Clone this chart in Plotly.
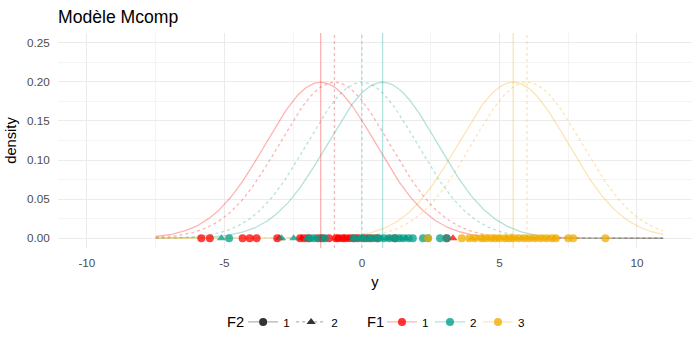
import numpy as np
import plotly.graph_objects as go

# ---- data ----
f1_levels = ["1", "2", "3"]
f2_levels = ["1", "2"]
f1_colors = ["#FF0000", "#00A08A", "#F2AD00"]
f1_rgb = ["255,0,0", "0,160,138", "242,173,0"]

# group means (rows: F1 level, cols: F2 level)
means_f2_1 = [-1.5, 0.75, 5.5]
means_f2_2 = [-1.0, 0.0, 6.0]
sigma = 2.0
curve_from = -7.5
curve_to = 10.95

# observed y values per group
y_r1 = [-5.84, -5.53, -4.34, -4.08, -3.83, -3.08, -2.25, -2.1, -1.95, -1.6, -1.42, -1.2,
        -0.95, -0.85, -0.7, -0.6, -0.45, -0.3, -0.15, 0.1, 0.3, 0.55, 1.2, 3.08]
y_r2 = [-3.0, -2.2, -1.5, -0.9, -0.8, -0.65, -0.5, -0.4, -0.2, 0.0, 0.2, 0.45, 1.0, 1.6, 3.31]
y_t1 = [-4.83, -1.9, -1.75, -1.5, -1.35, -0.3, 0.0, 0.2, 0.4, 0.6, 0.8, 1.0, 1.2, 1.35,
        1.5, 1.7, 1.85, 2.22, 2.4, 2.84, 3.08]
y_t2 = [-5.11, -2.92, -2.48, -2.0, -1.7, -0.25, -0.1, 0.05, 0.3, 0.5, 0.7, 0.9, 1.1, 1.4, 1.6]
y_y1 = [2.4, 3.63, 3.9, 4.1, 4.35, 4.5, 4.7, 4.85, 5.0, 5.2, 5.35, 5.5, 5.7, 5.9, 6.1, 6.3,
        6.5, 6.7, 6.9, 7.05, 7.5, 7.68, 8.85]
y_y2 = [4.0, 4.2, 4.4, 4.6, 4.8, 5.05, 5.25, 5.45, 5.6, 5.8, 6.0, 6.2, 6.4, 6.6, 6.8, 7.0]
obs = {("1", "1"): y_r1, ("1", "2"): y_r2,
       ("2", "1"): y_t1, ("2", "2"): y_t2,
       ("3", "1"): y_y1, ("3", "2"): y_y2}

x_ticks = [-10, -5, 0, 5, 10]
y_ticks = [0.0, 0.05, 0.10, 0.15, 0.20, 0.25]

FONT = "Liberation Sans, Arial, sans-serif"
DASH = "3px,3px"

fig = go.Figure()

xs = np.linspace(curve_from, curve_to, 300)
def dnorm(x, m, s):
    return np.exp(-0.5 * ((x - m) / s) ** 2) / (s * np.sqrt(2 * np.pi))

for i, lev in enumerate(f1_levels):
    for means, dash in ((means_f2_1, "solid"), (means_f2_2, DASH)):
        fig.add_trace(go.Scatter(
            x=xs, y=dnorm(xs, means[i], sigma), mode="lines",
            line=dict(color=f"rgba({f1_rgb[i]},0.3)", width=1.3, dash=dash),
            showlegend=False, hoverinfo="skip"))
        fig.add_vline(x=means[i], line=dict(color=f"rgba({f1_rgb[i]},0.3)", width=1.3, dash=dash))

for i, lev in enumerate(f1_levels):
    for f2, sym in (("1", "circle"), ("2", "triangle-up")):
        vals = obs[(lev, f2)]
        fig.add_trace(go.Scatter(
            x=vals, y=[0.0] * len(vals), mode="markers",
            marker=dict(color=f1_colors[i], size=8, symbol=sym, opacity=0.75),
            showlegend=False))

# legend entries F2
for f2, sym, dash in (("1", "circle", "solid"), ("2", "triangle-up", DASH)):
    fig.add_trace(go.Scatter(
        x=[None], y=[None], mode="lines+markers", name=f2,
        marker=dict(color="#333333", size=8, symbol=sym),
        line=dict(color="rgba(0,0,0,0.3)", width=1.3, dash=dash),
        legend="legend"))
# legend entries F1
for i, lev in enumerate(f1_levels):
    fig.add_trace(go.Scatter(
        x=[None], y=[None], mode="lines+markers", name=lev,
        marker=dict(color=f1_colors[i], size=8, symbol="circle", opacity=0.8),
        line=dict(color=f"rgba({f1_rgb[i]},0.3)", width=1.3),
        legend="legend2"))

LEG_Y = -0.344
grid = "#EBEBEB"
fig.update_layout(
    width=700, height=350,
    margin=dict(l=58, r=8, t=33, b=102),
    plot_bgcolor="white", paper_bgcolor="white",
    font=dict(family=FONT, color="black"),
    title=dict(text="Modèle Mcomp", x=58 / 700, xanchor="left", y=1 - 17 / 350, yanchor="middle",
               font=dict(size=17.6, color="black")),
    xaxis=dict(range=[-11.05, 12.0], tickvals=x_ticks, ticktext=[str(v) for v in x_ticks],
               showgrid=True, gridcolor=grid, gridwidth=1, zeroline=False,
               ticks="outside", ticklen=4, tickcolor="rgba(0,0,0,0)",
               tickfont=dict(size=11.7, color="#4D4D4D"),
               minor=dict(dtick=2.5, tick0=0, showgrid=True, gridcolor="#F4F4F4", gridwidth=1),
               title=dict(text="y", font=dict(size=14.7), standoff=8), showline=False),
    yaxis=dict(range=[-0.0125, 0.2625], tickvals=y_ticks, ticktext=["0.00", "0.05", "0.10", "0.15", "0.20", "0.25"],
               showgrid=True, gridcolor=grid, gridwidth=1, zeroline=False,
               ticks="outside", ticklen=5, tickcolor="rgba(0,0,0,0)",
               tickfont=dict(size=11.7, color="#4D4D4D"),
               minor=dict(dtick=0.025, tick0=0, showgrid=True, gridcolor="#F4F4F4", gridwidth=1),
               title=dict(text="density", font=dict(size=14.7), standoff=6), showline=False),
    legend=dict(orientation="h", x=0.292, xanchor="left", y=LEG_Y, yanchor="middle",
                font=dict(size=11.7), itemwidth=30, entrywidth=3, bgcolor="rgba(0,0,0,0)"),
    legend2=dict(orientation="h", x=0.511, xanchor="left", y=LEG_Y, yanchor="middle",
                 font=dict(size=11.7), itemwidth=30, entrywidth=3, bgcolor="rgba(0,0,0,0)"),
    annotations=[
        dict(text="F2", xref="paper", yref="paper", x=(236 - 58) / 634, y=LEG_Y,
             xanchor="center", yanchor="middle", showarrow=False, font=dict(size=14.7)),
        dict(text="F1", xref="paper", yref="paper", x=(375 - 58) / 634, y=LEG_Y,
             xanchor="center", yanchor="middle", showarrow=False, font=dict(size=14.7)),
    ],
)

fig.write_html("out.html")
